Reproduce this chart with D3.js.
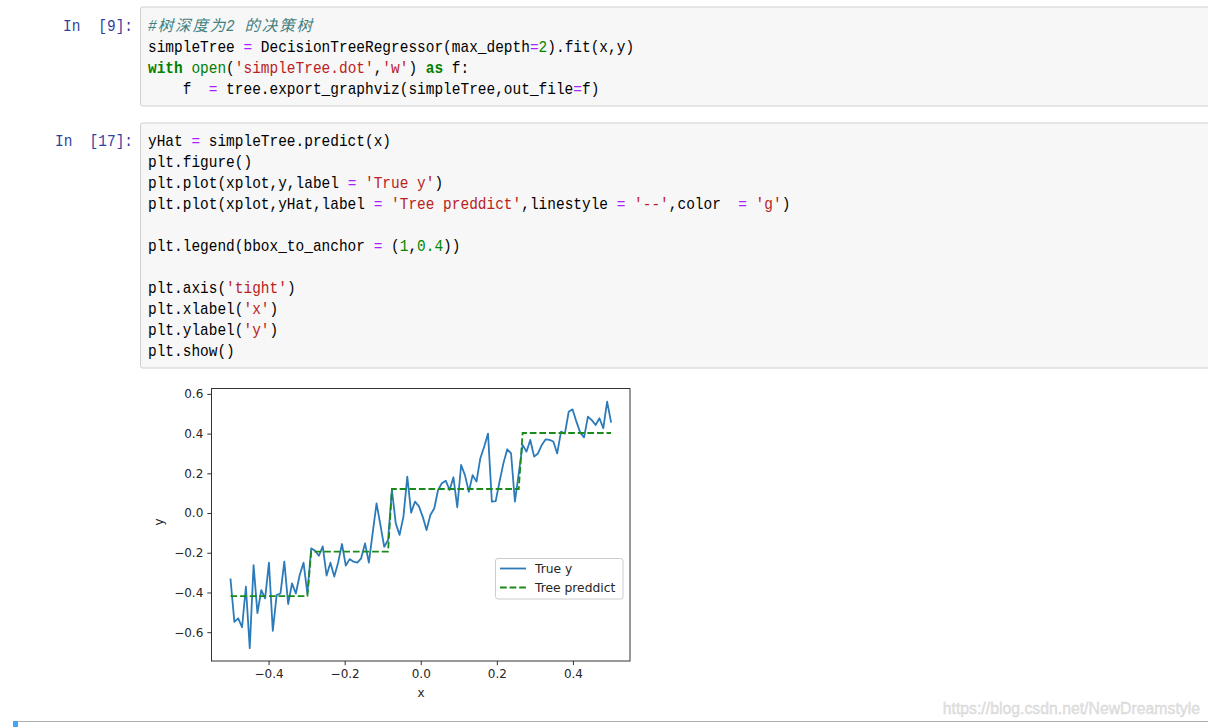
<!DOCTYPE html>
<html>
<head>
<meta charset="utf-8">
<script src="https://cdn.jsdelivr.net/npm/d3@7"></script>
<style>
  html, body { margin: 0; padding: 0; background: #fff; }
  svg { display: block; }
  text { white-space: pre; }
</style>
</head>
<body>
<svg id="chart" width="1208" height="727"></svg>
<script>
// ---------------- DATA ----------------
const xplot = [
 -0.5000,-0.4899,-0.4798,-0.4697,-0.4596,-0.4495,-0.4394,-0.4293,-0.4192,-0.4091,
 -0.3990,-0.3889,-0.3788,-0.3687,-0.3586,-0.3485,-0.3384,-0.3283,-0.3182,-0.3081,
 -0.2980,-0.2879,-0.2778,-0.2677,-0.2576,-0.2475,-0.2374,-0.2273,-0.2172,-0.2071,
 -0.1970,-0.1869,-0.1768,-0.1667,-0.1566,-0.1465,-0.1364,-0.1263,-0.1162,-0.1061,
 -0.0960,-0.0859,-0.0758,-0.0657,-0.0556,-0.0455,-0.0354,-0.0253,-0.0152,-0.0051,
  0.0051, 0.0152, 0.0253, 0.0354, 0.0455, 0.0556, 0.0657, 0.0758, 0.0859, 0.0960,
  0.1061, 0.1162, 0.1263, 0.1364, 0.1465, 0.1566, 0.1667, 0.1768, 0.1869, 0.1970,
  0.2071, 0.2172, 0.2273, 0.2374, 0.2475, 0.2576, 0.2677, 0.2778, 0.2879, 0.2980,
  0.3081, 0.3182, 0.3283, 0.3384, 0.3485, 0.3586, 0.3687, 0.3788, 0.3889, 0.3990,
  0.4091, 0.4192, 0.4293, 0.4394, 0.4495, 0.4596, 0.4697, 0.4798, 0.4899, 0.5000
];
const yTrue = [
 -0.334,-0.548,-0.530,-0.575,-0.371,-0.680,-0.262,-0.504,-0.388,-0.430,
 -0.250,-0.593,-0.413,-0.405,-0.245,-0.458,-0.354,-0.405,-0.312,-0.250,
 -0.405,-0.178,-0.190,-0.215,-0.168,-0.315,-0.250,-0.320,-0.250,-0.156,
 -0.265,-0.232,-0.245,-0.250,-0.228,-0.153,-0.250,-0.100, 0.049,-0.060,
 -0.170,-0.136, 0.116,-0.052,-0.110,-0.018, 0.183, 0.002, 0.057, 0.035,
 -0.018,-0.086,-0.010, 0.023, 0.116, 0.150, 0.163, 0.116, 0.180, 0.029,
  0.242, 0.191, 0.107, 0.191, 0.158, 0.276, 0.334, 0.400, 0.057, 0.060,
  0.158, 0.250, 0.321, 0.300, 0.057, 0.200, 0.343, 0.309, 0.368, 0.284,
  0.300, 0.343, 0.371, 0.368, 0.360, 0.300, 0.410, 0.400, 0.510, 0.522,
  0.460, 0.405, 0.381, 0.485, 0.468, 0.443, 0.477, 0.427, 0.561, 0.460
];
const yHat = [
 -0.418,-0.418,-0.418,-0.418,-0.418,-0.418,-0.418,-0.418,-0.418,-0.418,
 -0.418,-0.418,-0.418,-0.418,-0.418,-0.418,-0.418,-0.418,-0.418,-0.418,
 -0.418,-0.194,-0.194,-0.194,-0.194,-0.194,-0.194,-0.194,-0.194,-0.194,
 -0.194,-0.194,-0.194,-0.194,-0.194,-0.194,-0.194,-0.194,-0.194,-0.194,
 -0.194,-0.194, 0.121, 0.121, 0.121, 0.121, 0.121, 0.121, 0.121, 0.121,
  0.121, 0.121, 0.121, 0.121, 0.121, 0.121, 0.121, 0.121, 0.121, 0.121,
  0.121, 0.121, 0.121, 0.121, 0.121, 0.121, 0.121, 0.121, 0.121, 0.121,
  0.121, 0.121, 0.121, 0.121, 0.121, 0.121, 0.403, 0.403, 0.403, 0.403,
  0.403, 0.403, 0.403, 0.403, 0.403, 0.403, 0.403, 0.403, 0.403, 0.403,
  0.403, 0.403, 0.403, 0.403, 0.403, 0.403, 0.403, 0.403, 0.403, 0.403
];
const xTicks = [-0.4, -0.2, 0.0, 0.2, 0.4];
const xTickLabels = ["\u22120.4", "\u22120.2", "0.0", "0.2", "0.4"];
const yTicks = [-0.6, -0.4, -0.2, 0.0, 0.2, 0.4, 0.6];
const yTickLabels = ["\u22120.6", "\u22120.4", "\u22120.2", "0.0", "0.2", "0.4", "0.6"];
const seriesNames = ["True y", "Tree preddict"];
const xDomain = [-0.55, 0.55];
const yDomain = [-0.745, 0.627];

// code cells: [type, text]
const cell1Prompt = ["In", "[9]:"];
const cell1Lines = [
  [["c", "#树深度为2 的决策树"]],
  [["n", "simpleTree "], ["o", "="], ["n", " DecisionTreeRegressor(max_depth"], ["o", "="], ["m", "2"], ["n", ").fit(x,y)"]],
  [["k", "with"], ["n", " "], ["b", "open"], ["n", "("], ["s", "'simpleTree.dot'"], ["n", ","], ["s", "'w'"], ["n", ") "], ["k", "as"], ["n", " f:"]],
  [["n", "    f  "], ["o", "="], ["n", " tree.export_graphviz(simpleTree,out_file"], ["o", "="], ["n", "f)"]]
];
const cell2Prompt = ["In", "[17]:"];
const cell2Lines = [
  [["n", "yHat "], ["o", "="], ["n", " simpleTree.predict(x)"]],
  [["n", "plt.figure()"]],
  [["n", "plt.plot(xplot,y,label "], ["o", "="], ["n", " "], ["s", "'True y'"], ["n", ")"]],
  [["n", "plt.plot(xplot,yHat,label "], ["o", "="], ["n", " "], ["s", "'Tree preddict'"], ["n", ",linestyle "], ["o", "="], ["n", " "], ["s", "'--'"], ["n", ",color  "], ["o", "="], ["n", " "], ["s", "'g'"], ["n", ")"]],
  [],
  [["n", "plt.legend(bbox_to_anchor "], ["o", "="], ["n", " ("], ["m", "1"], ["n", ","], ["m", "0.4"], ["n", "))"]],
  [],
  [["n", "plt.axis("], ["s", "'tight'"], ["n", ")"]],
  [["n", "plt.xlabel("], ["s", "'x'"], ["n", ")"]],
  [["n", "plt.ylabel("], ["s", "'y'"], ["n", ")"]],
  [["n", "plt.show()"]]
];

// ---------------- DRAW ----------------
const svg = d3.select("#chart");
const MONO = "'Liberation Mono', 'DejaVu Sans Mono', monospace";
const CJK = "'Noto Sans CJK SC', sans-serif";
const SANS = "'DejaVu Sans', sans-serif";
const styles = {
  n: { fill: "#000" },
  o: { fill: "#AA22FF" },
  m: { fill: "#008800" },
  s: { fill: "#BA2121" },
  k: { fill: "#008000", weight: "bold" },
  b: { fill: "#008000" },
  c: { fill: "#408080", italic: true }
};
const CW = 8.68, SX = 0.904, CODE_X = 148;

function monoText(g, x, y, str, st, anchor) {
  g.append("text")
    .attr("transform", `translate(${x},${y}) scale(${SX},1)`)
    .attr("text-anchor", anchor || "start")
    .attr("font-family", MONO)
    .attr("font-size", 16)
    .attr("font-weight", st.weight || "normal")
    .attr("font-style", st.italic ? "italic" : "normal")
    .attr("fill", st.fill)
    .text(str);
}

function drawCell(top, height, prompt, lines, firstY, dy) {
  const g = svg.append("g");
  g.append("rect").attr("x", 140.5).attr("y", top + 0.5).attr("width", 1100).attr("height", height)
    .attr("rx", 2).attr("fill", "#f7f7f7").attr("stroke", "#cfcfcf");
  const py = firstY + 5;
  monoText(g, prompt[1].length > 4 ? 55 : 63, py, prompt[0], { fill: "#303F9F" });
  monoText(g, 133, py, prompt[1], { fill: "#303F9F" }, "end");
  lines.forEach((tokens, i) => {
    const by = firstY + i * dy + 5;
    let col = 0;
    tokens.forEach(([t, s]) => {
      const lead = s.match(/^ */)[0].length;
      col += lead; s = s.slice(lead);
      const st = styles[t];
      if (t === "c") {
        for (const ch of s) {
          if (/[\u4e00-\u9fff]/.test(ch)) {
            g.append("text").attr("x", CODE_X + col * CW + 1).attr("y", by)
              .attr("font-family", CJK).attr("font-size", 15.5).attr("font-style", "italic")
              .attr("fill", st.fill).text(ch);
            col += 2;
          } else {
            if (ch !== " ") monoText(g, CODE_X + col * CW, by, ch, st);
            col += 1;
          }
        }
      } else {
        monoText(g, CODE_X + col * CW, by, s, st);
        col += s.length;
      }
    });
  });
}

drawCell(6.5, 99, cell1Prompt, cell1Lines, 25.5, 21.2);
drawCell(122.5, 245, cell2Prompt, cell2Lines, 141, 21);

// ---- matplotlib figure ----
const x = d3.scaleLinear().domain(xDomain).range([211.5, 630]);
const y = d3.scaleLinear().domain(yDomain).range([661, 388.5]);
const fig = svg.append("g");

const pts = xplot.map((xv, i) => ({ x: xv, yt: yTrue[i], yh: yHat[i] }));
const clipId = "plotclip";
fig.append("clipPath").attr("id", clipId).append("rect")
  .attr("x", 211.5).attr("y", 388.5).attr("width", 630 - 211.5).attr("height", 661 - 388.5);

const BLUE = "#2b7bba", GREEN = "#1a8a1a";
const plotG = fig.append("g").attr("clip-path", `url(#${clipId})`);
plotG.append("path").datum(pts)
  .attr("d", d3.line().x(d => x(d.x)).y(d => y(d.yt)))
  .attr("fill", "none").attr("stroke", BLUE).attr("stroke-width", 1.8)
  .attr("stroke-linejoin", "round").attr("stroke-linecap", "square");
plotG.append("path").datum(pts)
  .attr("d", d3.line().x(d => x(d.x)).y(d => y(d.yh)))
  .attr("fill", "none").attr("stroke", GREEN).attr("stroke-width", 1.8)
  .attr("stroke-dasharray", "6.7,2.9");

// axes
const xAxis = d3.axisBottom(x).tickValues(xTicks).tickSize(4.2).tickPadding(4)
  .tickFormat((d, i) => xTickLabels[i]);
const yAxis = d3.axisLeft(y).tickValues(yTicks).tickSize(4.2).tickPadding(4)
  .tickFormat((d, i) => yTickLabels[i]);
const gx = fig.append("g").attr("transform", "translate(0,661)").call(xAxis);
const gy = fig.append("g").attr("transform", "translate(211.5,0)").call(yAxis);
[gx, gy].forEach(g => {
  g.select(".domain").remove();
  g.selectAll(".tick line").attr("stroke", "#333").attr("stroke-width", 1);
  g.selectAll(".tick text").attr("font-family", SANS).attr("font-size", 12).attr("fill", "#262626");
});

// frame
fig.append("rect").attr("x", 211.5).attr("y", 388.5).attr("width", 630 - 211.5).attr("height", 661 - 388.5)
  .attr("fill", "none").attr("stroke", "#333").attr("stroke-width", 1);

// labels
fig.append("text").attr("x", 421).attr("y", 697).attr("text-anchor", "middle")
  .attr("font-family", SANS).attr("font-size", 12).attr("fill", "#262626").text("x");
fig.append("text").attr("transform", "translate(163,522) rotate(-90)").attr("text-anchor", "middle")
  .attr("font-family", SANS).attr("font-size", 12).attr("fill", "#262626").text("y");

// legend
const lg = fig.append("g");
lg.append("rect").attr("x", 495.5).attr("y", 558.5).attr("width", 127.5).attr("height", 40.5).attr("rx", 2.5)
  .attr("fill", "#fff").attr("fill-opacity", 0.8).attr("stroke", "#cccccc").attr("stroke-width", 1);
const legendStyles = [{ c: BLUE, dash: null }, { c: GREEN, dash: "6.7,2.9" }];
seriesNames.forEach((name, i) => {
  const cy = 568.5 + i * 19;
  const l = lg.append("line").attr("x1", 500).attr("x2", 526).attr("y1", cy).attr("y2", cy)
    .attr("stroke", legendStyles[i].c).attr("stroke-width", 1.8);
  if (legendStyles[i].dash) l.attr("stroke-dasharray", legendStyles[i].dash);
  lg.append("text").attr("x", 535).attr("y", cy + 4.4)
    .attr("font-family", SANS).attr("font-size", 12.3).attr("fill", "#262626").text(name);
});

// bottom: next cell selection border + watermark
svg.append("line").attr("x1", 18).attr("x2", 1208).attr("y1", 721.5).attr("y2", 721.5)
  .attr("stroke", "#ababab").attr("stroke-width", 1);
svg.append("rect").attr("x", 13).attr("y", 721).attr("width", 5).attr("height", 6).attr("fill", "#42A5F5");
svg.append("text").attr("x", 1200).attr("y", 714).attr("text-anchor", "end")
  .attr("font-family", "'Liberation Sans', Arial, sans-serif").attr("font-size", 15.8)
  .attr("fill", "#e2e2e2").attr("stroke", "#cfcfcf").attr("stroke-width", 0.3)
  .text("https://blog.csdn.net/NewDreamstyle");
</script>
</body>
</html>
